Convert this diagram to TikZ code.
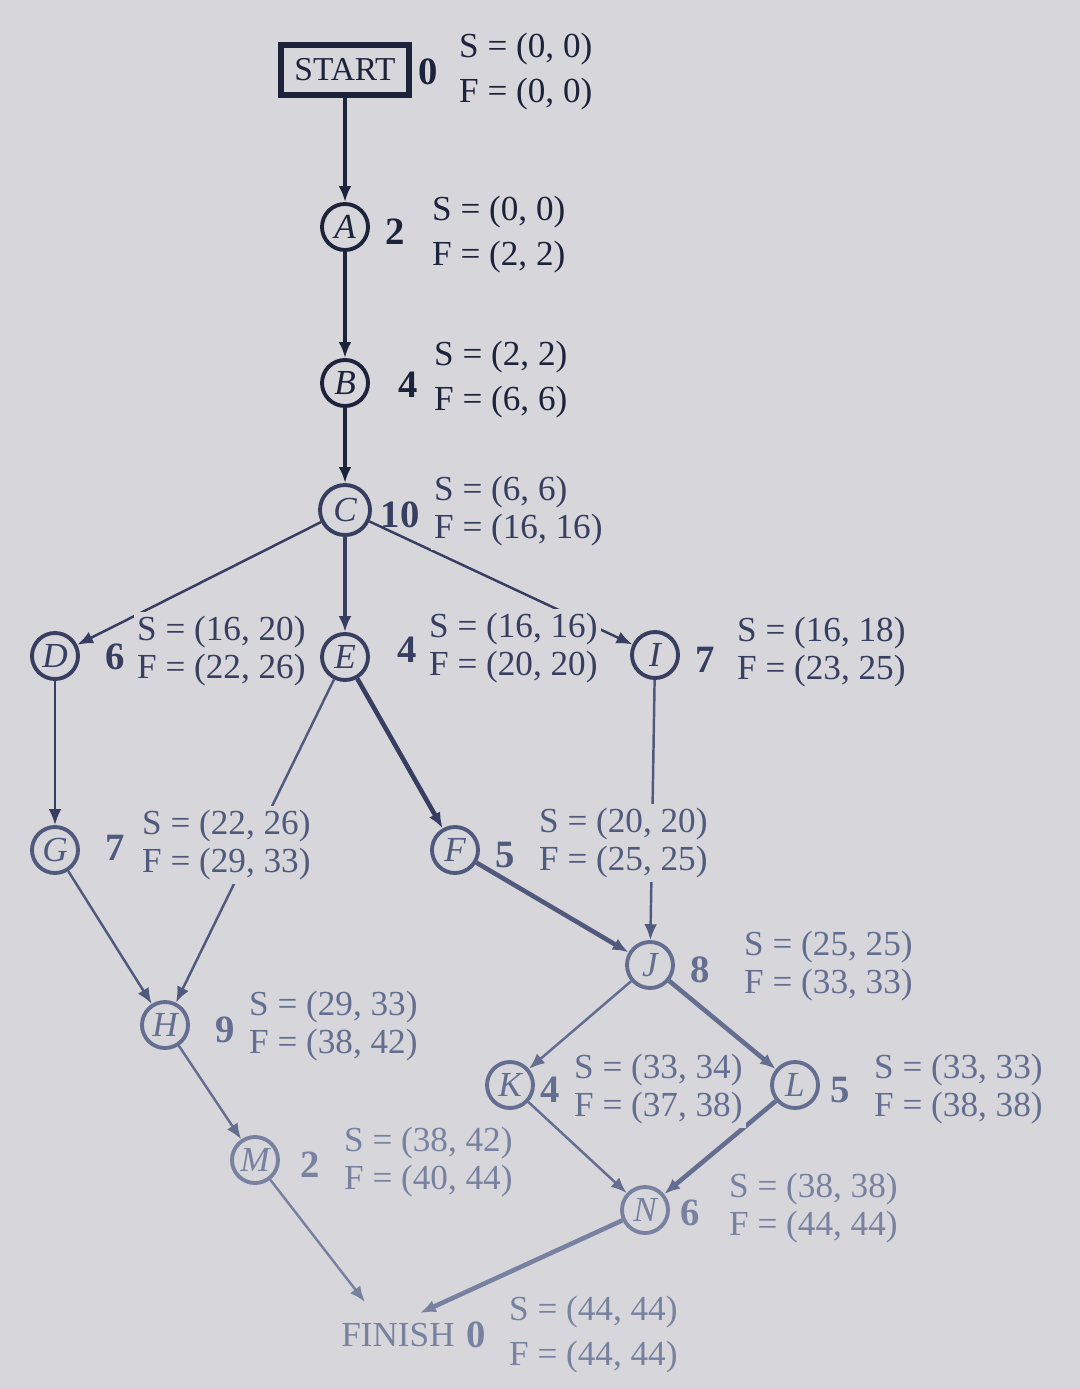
\documentclass[tikz,border=0pt]{standalone}
\usepackage{fontspec}
\setmainfont{Liberation Serif}
\usetikzlibrary{arrows.meta}
\definecolor{bg}{RGB}{214,214,219}
\definecolor{inkA}{RGB}{30,35,60}
\definecolor{inkB}{RGB}{55,62,95}
\definecolor{inkC}{RGB}{80,90,125}
\definecolor{inkD}{RGB}{100,110,145}
\definecolor{inkE}{RGB}{120,130,160}
\tikzset{
 act/.style={circle, draw, line width=1.1pt, minimum size=0.46cm, inner sep=0pt, font=\fontsize{10}{12}\selectfont\itshape, fill=bg},
 dur/.style={font=\fontsize{11}{12}\selectfont\bfseries, inner sep=1pt},
 sf/.style={anchor=west, align=left, font=\fontsize{10}{12.8}\selectfont, inner sep=1pt, fill=bg},
 sft/.style={sf, font=\fontsize{10}{11}\selectfont},
 link/.style={-{Latex[length=4.5pt,width=3.6pt]}, line width=0.7pt},
 crit/.style={link, line width=1.3pt},
}
\begin{document}
\begin{tikzpicture}[x=0.01cm, y=-0.01cm]
\fill[bg] (0,0) rectangle (1080,1389);
\useasboundingbox (0,0) rectangle (1080,1389);
% activity nodes
\node[draw=inkA, text=inkA, line width=1.5pt, minimum width=1.28cm, minimum height=0.5cm, inner sep=1pt, font=\fontsize{9.5}{12}\selectfont, fill=bg] (start) at (345,70) {START};
\node[act, draw=inkA, text=inkA] (A) at (345,227) {A};
\node[act, draw=inkA, text=inkA] (B) at (345,383) {B};
\node[act, draw=inkB, text=inkB, minimum size=0.5cm] (C) at (345,510) {C};
\node[act, draw=inkB, text=inkB] (D) at (55,656) {D};
\node[act, draw=inkB, text=inkB] (E) at (345,657) {E};
\node[act, draw=inkB, text=inkB] (I) at (655,655) {I};
\node[act, draw=inkC, text=inkC] (G) at (55,850) {G};
\node[act, draw=inkC, text=inkC] (F) at (455,850) {F};
\node[act, draw=inkD, text=inkD] (J) at (650,965) {J};
\node[act, draw=inkD, text=inkD] (H) at (165,1025) {H};
\node[act, draw=inkD, text=inkD] (K) at (510,1085) {K};
\node[act, draw=inkD, text=inkD] (L) at (795,1085) {L};
\node[act, draw=inkE, text=inkE] (M) at (255,1160) {M};
\node[act, draw=inkE, text=inkE] (N) at (645,1210) {N};
\node[text=inkE, inner sep=2pt, font=\fontsize{10}{12}\selectfont] (finish) at (398,1335) {FINISH};
\coordinate (finL) at (365,1302);
\coordinate (finR) at (420,1313);
% connectors
\draw[crit, inkA] (start) -- (A);
\draw[crit, inkA] (A) -- (B);
\draw[crit, inkA] (B) -- (C);
\draw[link, inkB] (C) -- (D);
\draw[crit, inkB] (C) -- (E);
\draw[link, inkB] (C) -- (I);
\draw[link, inkB] (D) -- (G);
\draw[crit, inkB] (E) -- (F);
\draw[link, inkC] (E) -- (H);
\draw[link, inkC] (G) -- (H);
\draw[crit, inkC] (F) -- (J);
\draw[link, inkC] (I) -- (J);
\draw[link, inkD] (J) -- (K);
\draw[crit, inkD] (J) -- (L);
\draw[link, inkD] (H) -- (M);
\draw[link, inkD] (K) -- (N);
\draw[crit, inkD] (L) -- (N);
\draw[link, inkE] (M) -- (finL);
\draw[crit, inkE] (N) -- (finR);
% durations
\node[dur, text=inkA] (dstart) at (428,72) {0};
\node[dur, text=inkA] (dA) at (395,232) {2};
\node[dur, text=inkA] (dB) at (408,385) {4};
\node[dur, text=inkB] (dC) at (400,515) {10};
\node[dur, text=inkB] (dD) at (115,657) {6};
\node[dur, text=inkB] (dE) at (407,650) {4};
\node[dur, text=inkB] (dI) at (705,660) {7};
\node[dur, text=inkC] (dG) at (115,848) {7};
\node[dur, text=inkC] (dF) at (505,855) {5};
\node[dur, text=inkD] (dJ) at (700,970) {8};
\node[dur, text=inkD] (dH) at (225,1030) {9};
\node[dur, text=inkD] (dK) at (550,1090) {4};
\node[dur, text=inkD] (dL) at (840,1090) {5};
\node[dur, text=inkE] (dM) at (310,1165) {2};
\node[dur, text=inkE] (dN) at (690,1213) {6};
\node[dur, text=inkE] (dfinish) at (476,1335) {0};
% start / finish times
\node[sf, text=inkA] (sfstart) at (455,72) {S = (0, 0)\\F = (0, 0)};
\node[sf, text=inkA] (sfA) at (428,235) {S = (0, 0)\\F = (2, 2)};
\node[sf, text=inkA] (sfB) at (430,380) {S = (2, 2)\\F = (6, 6)};
\node[sft, text=inkB] (sfC) at (430,511) {S = (6, 6)\\F = (16, 16)};
\node[sft, text=inkB] (sfD) at (133,651) {S = (16, 20)\\F = (22, 26)};
\node[sft, text=inkB] (sfE) at (425,648) {S = (16, 16)\\F = (20, 20)};
\node[sft, text=inkB] (sfI) at (733,652) {S = (16, 18)\\F = (23, 25)};
\node[sft, text=inkC] (sfG) at (138,845) {S = (22, 26)\\F = (29, 33)};
\node[sft, text=inkC] (sfF) at (535,843) {S = (20, 20)\\F = (25, 25)};
\node[sft, text=inkD] (sfJ) at (740,966) {S = (25, 25)\\F = (33, 33)};
\node[sft, text=inkD] (sfH) at (245,1026) {S = (29, 33)\\F = (38, 42)};
\node[sft, text=inkD] (sfK) at (570,1089) {S = (33, 34)\\F = (37, 38)};
\node[sft, text=inkD] (sfL) at (870,1089) {S = (33, 33)\\F = (38, 38)};
\node[sft, text=inkE] (sfM) at (340,1162) {S = (38, 42)\\F = (40, 44)};
\node[sft, text=inkE] (sfN) at (725,1208) {S = (38, 38)\\F = (44, 44)};
\node[sf, text=inkE] (sffinish) at (505,1335) {S = (44, 44)\\F = (44, 44)};
\end{tikzpicture}
\end{document}
